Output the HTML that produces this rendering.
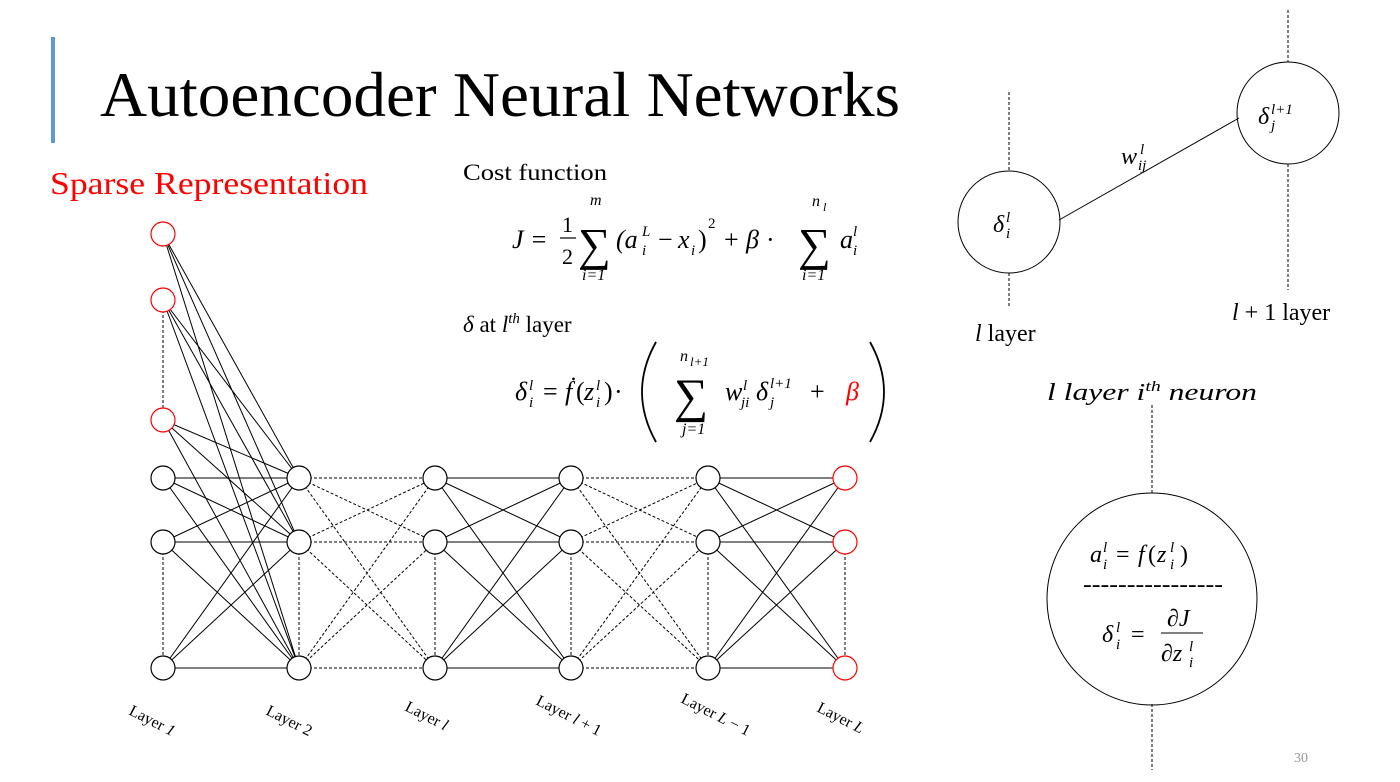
<!DOCTYPE html>
<html><head><meta charset="utf-8"><style>
body{margin:0;background:#fff}
svg{display:block}
.m{font-family:"Liberation Serif","DejaVu Serif",serif;font-style:italic}
.t{font-family:"Liberation Serif",serif}
</style></head><body>
<svg width="1400" height="782" viewBox="0 0 1400 782" xmlns="http://www.w3.org/2000/svg">
<rect x="51" y="37" width="4" height="106" fill="#5b9bd5"/>
<text x="100" y="116" class="t" font-size="64" fill="#000" textLength="800" lengthAdjust="spacingAndGlyphs">Autoencoder Neural Networks</text>
<text x="50" y="194" class="t" font-size="32" fill="#f00" textLength="318" lengthAdjust="spacingAndGlyphs">Sparse Representation</text>
<text x="463" y="180" class="t" font-size="23" textLength="144" lengthAdjust="spacingAndGlyphs">Cost function</text>
<g class="m" font-size="26">
<text x="512" y="248">J =</text>
<text x="562" y="232" font-size="22" font-style="normal">1</text>
<line x1="560" y1="238" x2="576" y2="238" stroke="#000" stroke-width="1.2"/>
<text x="562" y="264" font-size="22" font-style="normal">2</text>
<text x="578" y="260" font-size="46" font-style="normal">∑</text>
<text x="590" y="205" font-size="16">m</text>
<text x="582" y="280" font-size="16">i=1</text>
<text x="616" y="248">(a</text><text x="642" y="236" font-size="15">L</text><text x="642" y="255" font-size="15">i</text>
<text x="658" y="248" font-style="normal">−</text><text x="678" y="248">x</text><text x="691" y="255" font-size="15">i</text><text x="698" y="248" font-style="normal">)</text><text x="708" y="228" font-size="15" font-style="normal">2</text>
<text x="724" y="248" font-style="normal">+</text><text x="746" y="248">β</text><text x="766" y="248" font-style="normal">·</text>
<text x="798" y="260" font-size="46" font-style="normal">∑</text>
<text x="812" y="206" font-size="16">n</text><text x="823" y="211" font-size="12">l</text>
<text x="802" y="280" font-size="16">i=1</text>
<text x="840" y="248">a</text><text x="853" y="236" font-size="15">l</text><text x="853" y="255" font-size="15">i</text>
</g>
<text x="463" y="332" class="t" font-size="23"><tspan class="m">δ</tspan> at <tspan class="m">l</tspan><tspan class="m" font-size="15" dy="-9">th</tspan><tspan dy="9"> layer</tspan></text>
<g class="m" font-size="26">
<text x="515" y="400">δ</text><text x="529" y="390" font-size="15">l</text><text x="529" y="407" font-size="15">i</text>
<text x="543" y="400" font-style="normal">=</text><text x="565" y="400">ḟ</text><text x="576" y="400" font-style="normal">(</text><text x="584" y="400">z</text><text x="596" y="390" font-size="15">l</text><text x="596" y="407" font-size="15">i</text><text x="604" y="400" font-style="normal">)</text><text x="614" y="400" font-style="normal">·</text>
<path d="M656 342 Q628 392 656 442" fill="none" stroke="#000" stroke-width="1.8"/>
<path d="M870 342 Q898 392 870 442" fill="none" stroke="#000" stroke-width="1.8"/>
<text x="674" y="412" font-size="48" font-style="normal">∑</text>
<text x="680" y="361" font-size="16">n</text><text x="690" y="366" font-size="13">l+1</text>
<text x="682" y="434" font-size="16">j=1</text>
<text x="725" y="400">w</text><text x="743" y="390" font-size="15">l</text><text x="741" y="407" font-size="15">ji</text>
<text x="756" y="400">δ</text><text x="770" y="388" font-size="15">l+1</text><text x="770" y="407" font-size="15">j</text>
<text x="810" y="400" font-style="normal">+</text><text x="846" y="400" fill="#f00">β</text>
</g>
<g stroke="#000" stroke-width="1" fill="none">
<path d="M163 234L299 478M163 234L299 542M163 234L299 668M163 300L299 478M163 300L299 542M163 300L299 668M163 420L299 478M163 420L299 542M163 420L299 668M163 478L299 478M163 478L299 542M163 478L299 668M163 542L299 478M163 542L299 542M163 542L299 668M163 668L299 478M163 668L299 542M163 668L299 668"/>
<path d="M435 478L571 478M435 478L571 542M435 478L571 668M435 542L571 478M435 542L571 542M435 542L571 668M435 668L571 478M435 668L571 542M435 668L571 668"/>
<path d="M708 478L845 478M708 478L845 542M708 478L845 668M708 542L845 478M708 542L845 542M708 542L845 668M708 668L845 478M708 668L845 542M708 668L845 668"/>
<g stroke-dasharray="3,2">
<path d="M299 478L435 478M299 478L435 542M299 478L435 668M299 542L435 478M299 542L435 542M299 542L435 668M299 668L435 478M299 668L435 542M299 668L435 668"/>
<path d="M571 478L708 478M571 478L708 542M571 478L708 668M571 542L708 478M571 542L708 542M571 542L708 668M571 668L708 478M571 668L708 542M571 668L708 668"/>
<path d="M163 300V420M163 542V668M299 542V668M435 542V668M571 542V668M708 542V668M845 542V668"/>
</g>
</g>
<g stroke-width="1.2" fill="#fff">
<circle cx="163" cy="234" r="12" stroke="#f00"/><circle cx="163" cy="300" r="12" stroke="#f00"/><circle cx="163" cy="420" r="12" stroke="#f00"/>
<g stroke="#000">
<circle cx="163" cy="478" r="12"/><circle cx="163" cy="542" r="12"/><circle cx="163" cy="668" r="12"/>
<circle cx="299" cy="478" r="12"/><circle cx="299" cy="542" r="12"/><circle cx="299" cy="668" r="12"/>
<circle cx="435" cy="478" r="12"/><circle cx="435" cy="542" r="12"/><circle cx="435" cy="668" r="12"/>
<circle cx="571" cy="478" r="12"/><circle cx="571" cy="542" r="12"/><circle cx="571" cy="668" r="12"/>
<circle cx="708" cy="478" r="12"/><circle cx="708" cy="542" r="12"/><circle cx="708" cy="668" r="12"/>
</g>
<circle cx="845" cy="478" r="12" stroke="#f00"/><circle cx="845" cy="542" r="12" stroke="#f00"/><circle cx="845" cy="668" r="12" stroke="#f00"/>
</g>
<g font-family="Liberation Serif,serif" font-size="16">
<text transform="translate(128,714) rotate(27)">Layer <tspan font-style="italic">1</tspan></text>
<text transform="translate(265,714) rotate(27)">Layer 2</text>
<text transform="translate(404,710) rotate(27)">Layer <tspan font-style="italic">l</tspan></text>
<text transform="translate(535,704) rotate(27)">Layer <tspan font-style="italic">l</tspan> + 1</text>
<text transform="translate(680,702) rotate(27)">Layer <tspan font-style="italic">L</tspan> − 1</text>
<text transform="translate(816,711) rotate(27)">Layer <tspan font-style="italic">L</tspan></text>
</g>
<g stroke="#000" stroke-width="1" fill="none">
<path d="M1009 92V171M1009 273V308M1288 10V62M1288 164V290M1152 405V494M1152 704V770" stroke-dasharray="3,2"/>
<line x1="1059" y1="220" x2="1239" y2="118"/>
<circle cx="1009" cy="222" r="51"/>
<circle cx="1288" cy="113" r="51"/>
<ellipse cx="1152" cy="599" rx="105" ry="106"/>
</g>
<g class="m" font-size="24">
<text x="993" y="232">δ</text><text x="1006" y="222" font-size="15">l</text><text x="1006" y="238" font-size="15">i</text>
<text x="1258" y="124">δ</text><text x="1271" y="114" font-size="15">l+1</text><text x="1271" y="130" font-size="15">j</text>
<text x="1121" y="164">w</text><text x="1140" y="154" font-size="15">l</text><text x="1138" y="170" font-size="15">ij</text>
<text x="975" y="341" font-size="24">l <tspan font-style="normal">layer</tspan></text>
<text x="1232" y="320" font-size="24">l <tspan font-style="normal">+ 1 layer</tspan></text>
<text x="1047" y="400" font-size="24" textLength="210" lengthAdjust="spacingAndGlyphs">l layer i<tspan font-size="15" dy="-9">th</tspan><tspan dy="9"> neuron</tspan></text>
<text x="1090" y="562">a</text><text x="1103" y="552" font-size="15">l</text><text x="1103" y="569" font-size="15">i</text>
<text x="1116" y="562" font-style="normal">=</text><text x="1138" y="562">f</text><text x="1148" y="562" font-style="normal">(</text><text x="1157" y="562">z</text><text x="1170" y="552" font-size="15">l</text><text x="1170" y="569" font-size="15">i</text><text x="1180" y="562" font-style="normal">)</text>
<text x="1083" y="592" font-style="normal" textLength="140" lengthAdjust="spacingAndGlyphs">----------------</text>
<text x="1102" y="642">δ</text><text x="1116" y="632" font-size="15">l</text><text x="1116" y="649" font-size="15">i</text>
<text x="1131" y="642" font-style="normal">=</text>
<text x="1167" y="626">∂J</text>
<line x1="1161" y1="633" x2="1203" y2="633" stroke="#000"/>
<text x="1161" y="661">∂z</text><text x="1189" y="651" font-size="15">l</text><text x="1189" y="667" font-size="15">i</text>
</g>
<text x="1294" y="762" font-family="Liberation Serif,serif" font-size="14" fill="#999">30</text>
</svg>
</body></html>
